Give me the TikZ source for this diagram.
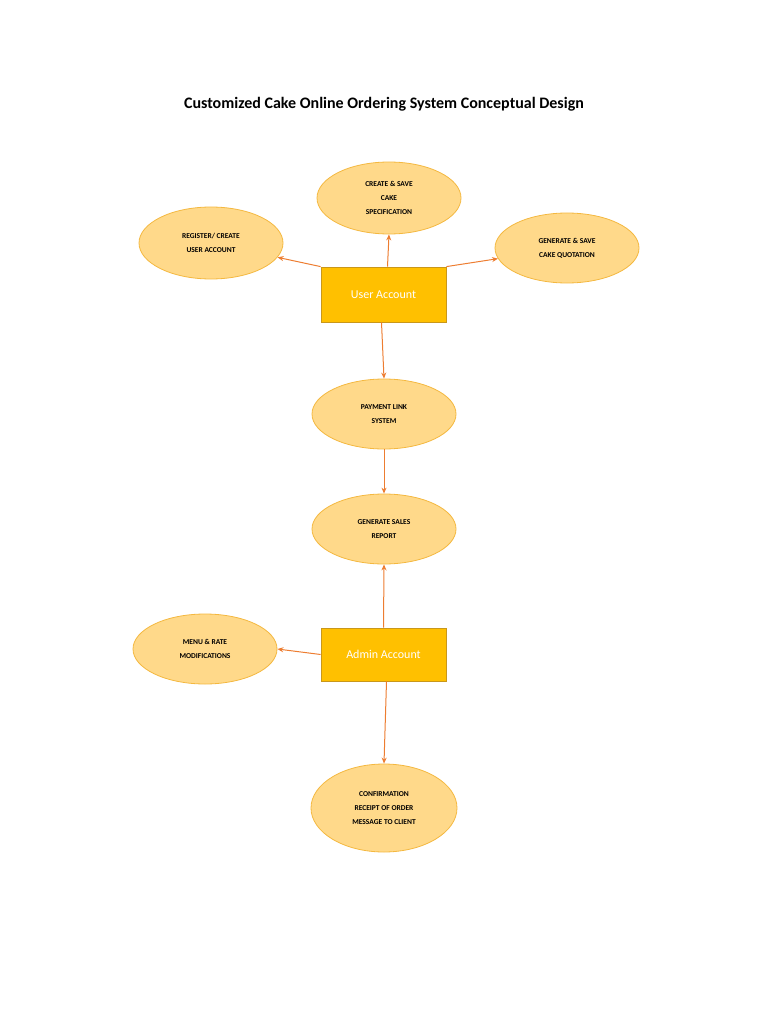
\documentclass[tikz,border=0pt]{standalone}
\usepackage{fontspec}
\setmainfont{Carlito}
\usetikzlibrary{shapes.geometric,arrows.meta}
\definecolor{ellfill}{HTML}{FFD98A}
\definecolor{ellline}{HTML}{F4B840}
\definecolor{boxfill}{HTML}{FFC000}
\definecolor{boxline}{HTML}{C9971A}
\definecolor{arr}{HTML}{ED7D31}
\tikzset{
 ell/.style={ellipse,draw=ellline,fill=ellfill,line width=0.8pt,minimum width=144pt,minimum height=70pt,inner sep=0pt,align=center,font=\fontsize{7.5}{14}\selectfont\bfseries},
 acct/.style={rectangle,draw=boxline,fill=boxfill,line width=0.8pt,minimum width=125pt,minimum height=55pt,text=white,font=\fontsize{12}{14}\selectfont},
 conn/.style={draw=arr,line width=1pt,-{Stealth[length=6pt,width=5pt]}}
}
\begin{document}
\begin{tikzpicture}[x=1pt,y=-1pt]
\useasboundingbox (0,0) rectangle (768,1024);
\node[font=\fontsize{16}{18}\selectfont\bfseries] (title) at (384,104) {Customized Cake Online Ordering System Conceptual Design};
\node[ell,minimum height=72pt] (create) at (389,198) {CREATE \& SAVE\\CAKE\\SPECIFICATION};
\node[ell,minimum height=72pt] (reg) at (211,243) {REGISTER/ CREATE\\USER ACCOUNT};
\node[ell] (quote) at (567,248) {GENERATE \& SAVE\\CAKE QUOTATION};
\node[acct] (user) at (383.5,294.5) {User Account};
\node[ell] (pay) at (384,414) {PAYMENT LINK\\SYSTEM};
\node[ell] (sales) at (384,529) {GENERATE SALES\\REPORT};
\node[ell] (menu) at (205,649) {MENU \& RATE\\MODIFICATIONS};
\node[acct,minimum height=53pt] (admin) at (383.5,654.5) {Admin Account};
\node[ell,minimum width=146pt,minimum height=88pt] (conf) at (384,808) {CONFIRMATION\\RECEIPT OF ORDER\\MESSAGE TO CLIENT};
\draw[conn] (user.north west) -- (reg);
\draw[conn] ([xshift=4pt]user.north) -- (create.south);
\draw[conn] (user.north east) -- (quote);
\draw[conn] ([xshift=-2pt]user.south) -- (pay.north);
\draw[conn] (pay.south) -- (sales.north);
\draw[conn] (admin.north) -- (sales.south);
\draw[conn] (admin.west) -- (menu.east);
\draw[conn] ([xshift=3pt]admin.south) -- (conf.north);
\end{tikzpicture}
\end{document}
